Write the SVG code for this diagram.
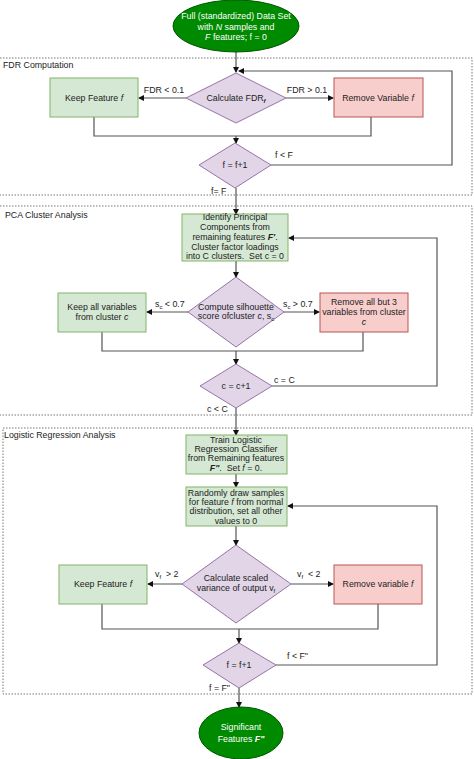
<svg xmlns="http://www.w3.org/2000/svg" width="474" height="759" viewBox="0 0 474 759">
<defs>
<marker id="ah" markerWidth="6" markerHeight="6" refX="5" refY="3" orient="auto" markerUnits="userSpaceOnUse">
<path d="M0,0 L6,3 L0,6 Z" fill="#111"/>
</marker>
<style>
text{font-family:"Liberation Sans",Arial,sans-serif;font-size:8.8px;fill:#222}
.c{text-anchor:middle}
.w{fill:#fff}
.sec{fill:none;stroke:#777;stroke-width:1;stroke-dasharray:1.5 1.5}
.g{fill:#d5e8d4;stroke:#82b366;stroke-width:1}
.r{fill:#f8cecc;stroke:#b85450;stroke-width:1}
.d{fill:#e1d5e7;stroke:#9673a6;stroke-width:1}
.e{fill:#008a00;stroke:#005700;stroke-width:1}
.ln{fill:none;stroke:#555;stroke-width:1.2}
.ar{fill:none;stroke:#555;stroke-width:1.2;marker-end:url(#ah)}
.sub{font-size:6px}
.bi{font-weight:bold;font-style:italic}
.i{font-style:italic}
</style>
</defs>
<rect width="474" height="759" fill="#fff"/>

<g id="sections">
<rect class="sec" x="-3" y="58" width="475" height="137"/>
<text x="3" y="68">FDR Computation</text>
<rect class="sec" x="-3" y="206" width="475" height="209"/>
<text x="5" y="218">PCA Cluster Analysis</text>
<rect class="sec" x="3" y="428" width="469" height="266"/>
<text x="4" y="438">Logistic Regression Analysis</text>
</g>

<g id="connectors">
<path class="ar" d="M236,52 V72"/>
<path class="ar" d="M271,165 H452 V71 H239"/>
<path class="ar" d="M186,98 H139"/>
<path class="ar" d="M286,98 H333"/>
<path class="ln" d="M94,117 V136 H371 V117"/>
<path class="ar" d="M236,136 V143"/>
<path class="ar" d="M236,188 V214"/>
<path class="ar" d="M236,261 V277"/>
<path class="ar" d="M188,312 H147"/>
<path class="ar" d="M284,312 H319"/>
<path class="ln" d="M102,332 V351 H363 V332"/>
<path class="ar" d="M236,351 V364"/>
<path class="ar" d="M272,386 H437 V238 H289"/>
<path class="ar" d="M236,408 V435"/>
<path class="ar" d="M236,474 V487"/>
<path class="ar" d="M236,526 V545"/>
<path class="ar" d="M182,584 H148"/>
<path class="ar" d="M291,584 H333"/>
<path class="ln" d="M102,604 V629 H378 V604"/>
<path class="ar" d="M239,629 V643"/>
<path class="ar" d="M276,665 H437 V506 H288"/>
<path class="ar" d="M239,688 V707"/>
</g>

<g id="labels">
<text class="c" x="164" y="93">FDR &lt; 0.1</text>
<text class="c" x="307" y="93">FDR &gt; 0.1</text>
<text x="275" y="158">f &lt; F</text>
<text x="211" y="194">f= F</text>
<text x="155" y="307">s<tspan class="sub" dy="2">c</tspan><tspan dy="-2"> &lt; 0.7</tspan></text>
<text x="283" y="307">s<tspan class="sub" dy="2">c</tspan><tspan dy="-2"> &gt; 0.7</tspan></text>
<text x="274" y="383">c = C</text>
<text x="207" y="412">c &lt; C</text>
<text x="155" y="577">v<tspan class="sub" dy="2">f</tspan><tspan dy="-2">&#160; &gt; 2</tspan></text>
<text x="297" y="577">v<tspan class="sub" dy="2">f</tspan><tspan dy="-2">&#160; &lt; 2</tspan></text>
<text x="287" y="659">f &lt; F"</text>
<text x="209" y="691">f = F"</text>
</g>

<g id="start">
<ellipse class="e" cx="236" cy="26" rx="63" ry="26"/>
<text class="c w" x="236" y="19">Full (standardized) Data Set</text>
<text class="c w" x="236" y="30">with <tspan class="i">N</tspan> samples and</text>
<text class="c w" x="236" y="40"><tspan class="i">F</tspan> features; f = 0</text>
</g>

<g id="calcFDR">
<polygon class="d" points="236,73 286,98 236,123 186,98"/>
<text class="c" x="236" y="101">Calculate FDR<tspan class="sub bi" dy="2">f</tspan></text>
</g>
<g id="keep1">
<rect class="g" x="50" y="78" width="88" height="39"/>
<text class="c" x="94" y="101">Keep Feature <tspan class="i">f</tspan></text>
</g>
<g id="remove1">
<rect class="r" x="334" y="78" width="89" height="39"/>
<text class="c" x="378" y="101">Remove Variable <tspan class="i">f</tspan></text>
</g>
<g id="inc1">
<polygon class="d" points="235,143 271,165 235,188 199,165"/>
<text class="c" x="235" y="168">f = f+1</text>
</g>

<g id="identify">
<rect class="g" x="182" y="214" width="106" height="47"/>
<text class="c" x="235" y="220">Identify Principal</text>
<text class="c" x="235" y="230">Components from</text>
<text class="c" x="235" y="240">remaining features <tspan class="bi">F'</tspan>.</text>
<text class="c" x="235" y="250">Cluster factor loadings</text>
<text class="c" x="235" y="259">into C clusters.&#160; Set c = 0</text>
</g>
<g id="silhouette">
<polygon class="d" points="236,277 284,312 236,347 188,312"/>
<text class="c" x="236" y="310">Compute silhouette</text>
<text class="c" x="236" y="319">score ofcluster <tspan class="i">c</tspan>, s<tspan class="sub" dy="2">c</tspan></text>
</g>
<g id="keep2">
<rect class="g" x="58" y="293" width="88" height="39"/>
<text class="c" x="102" y="310">Keep all variables</text>
<text class="c" x="102" y="320">from cluster <tspan class="i">c</tspan></text>
</g>
<g id="remove2">
<rect class="r" x="320" y="293" width="88" height="39"/>
<text class="c" x="364" y="305">Remove all but 3</text>
<text class="c" x="364" y="315">variables from cluster</text>
<text class="c" x="364" y="325"><tspan class="i">c</tspan></text>
</g>
<g id="inc2">
<polygon class="d" points="236,364 272,386 236,408 200,386"/>
<text class="c" x="236" y="389">c = c+1</text>
</g>

<g id="train">
<rect class="g" x="186" y="435" width="101" height="39"/>
<text class="c" x="236" y="443">Train Logistic</text>
<text class="c" x="236" y="452">Regression Classifier</text>
<text class="c" x="236" y="461">from Remaining features</text>
<text class="c" x="236" y="471"><tspan class="bi">F"</tspan>.&#160; Set <tspan class="i">f</tspan> = 0.</text>
</g>
<g id="randomly">
<rect class="g" x="186" y="487" width="101" height="39"/>
<text class="c" x="236" y="496">Randomly draw samples</text>
<text class="c" x="236" y="505">for feature <tspan class="i">f</tspan> from normal</text>
<text class="c" x="236" y="514">distribution, set all other</text>
<text class="c" x="236" y="524">values to 0</text>
</g>
<g id="variance">
<polygon class="d" points="236,545 291,584 236,623 182,584"/>
<text class="c" x="236" y="581">Calculate scaled</text>
<text class="c" x="236" y="591">variance of output v<tspan class="sub" dy="2">f</tspan></text>
</g>
<g id="keep3">
<rect class="g" x="59" y="565" width="88" height="39"/>
<text class="c" x="103" y="587">Keep Feature <tspan class="i">f</tspan></text>
</g>
<g id="remove3">
<rect class="r" x="334" y="565" width="88" height="39"/>
<text class="c" x="378" y="587">Remove variable <tspan class="i">f</tspan></text>
</g>
<g id="inc3">
<polygon class="d" points="239,643 276,665 239,688 203,665"/>
<text class="c" x="239" y="668">f = f+1</text>
</g>

<g id="end">
<ellipse class="e" cx="241" cy="733" rx="42" ry="26"/>
<text class="c w" x="241" y="730">Significant</text>
<text class="c w" x="241" y="742">Features <tspan class="bi w">F"</tspan></text>
</g>
</svg>
